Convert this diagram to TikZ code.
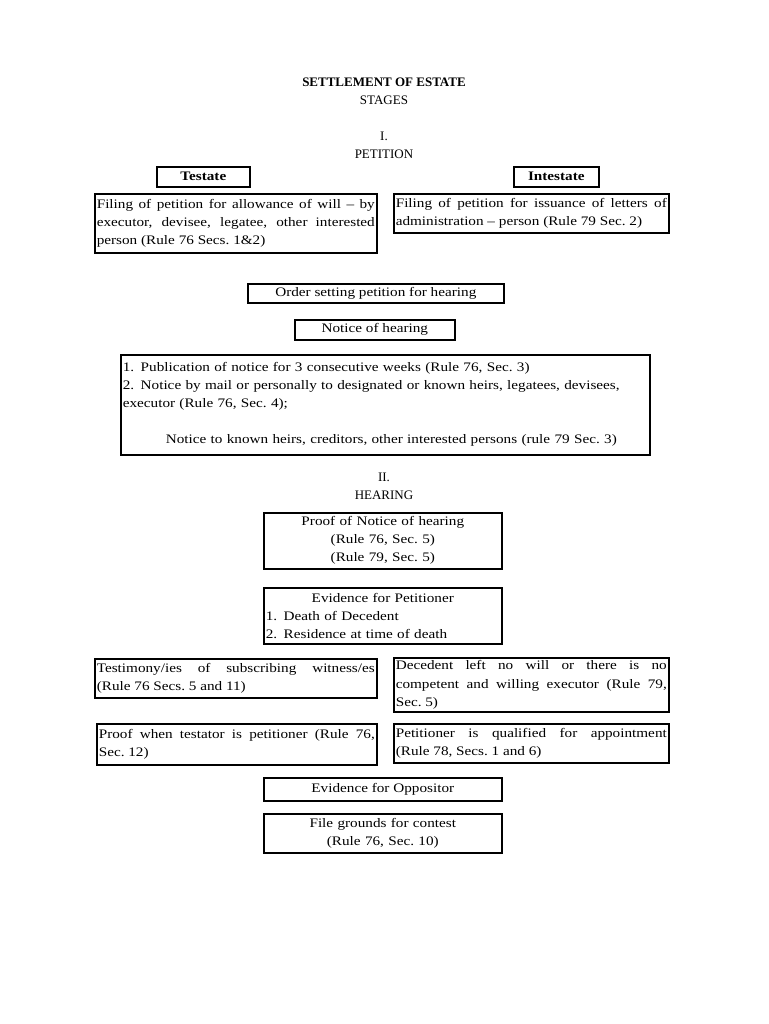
\documentclass[tikz,border=0pt]{standalone}
\usepackage{fontspec}
\setmainfont{Liberation Serif}
\newfontfamily\bodyfont[FakeStretch=1.17,Ligatures=TeX]{Liberation Serif}
\begin{document}
\begin{tikzpicture}[x=1pt,y=-1pt,
  every node/.style={font=\bodyfont\fontsize{13}{18}\selectfont},
  box/.style={draw, line width=1.6pt, anchor=north west, inner xsep=2pt, inner ysep=1pt},
  head/.style={inner sep=0pt, font=\rmfamily\fontsize{13}{18}\selectfont},
  boldbox/.style={box, font=\bodyfont\bfseries\fontsize{13}{18}\selectfont},
  para/.style={box, align=justify, execute at begin node={\hyphenpenalty=10000\exhyphenpenalty=10000}}]
\useasboundingbox (0,0) rectangle (768,1024);
\fill[white] (0,0) rectangle (768,1024);
% headings
\node[head, font=\rmfamily\bfseries\fontsize{13}{18}\selectfont] (title) at (384,82) {SETTLEMENT OF ESTATE};
\node[head] (stages) at (384,100) {STAGES};
\node[head] (one) at (384,136) {I.};
\node[head] (petition) at (384,154) {PETITION};
\node[head] (two) at (384,477) {II.};
\node[head] (hearing) at (384,495) {HEARING};
% petition stage
\node[boldbox, minimum width=93, minimum height=20] (testate) at (156,166) {Testate};
\node[boldbox, minimum width=85, minimum height=20] (intestate) at (513,166) {Intestate};
\node[para, minimum width=282, minimum height=59, text width=278] (filetest) at (94,193)
  {Filing of petition for allowance of will \textendash{} by\linebreak executor, devisee, legatee, other interested\linebreak person (Rule 76 Secs.~1\&2)};
\node[para, minimum width=275, minimum height=39, text width=271] (fileintest) at (393,193)
  {Filing of petition for issuance of letters of\linebreak administration \textendash{} person (Rule 79 Sec.~2)};
\node[box, minimum width=256, minimum height=19] (order) at (247,283) {Order setting petition for hearing};
\node[box, minimum width=160, minimum height=20] (notice) at (294,319) {Notice of hearing};
\node[box, minimum width=529, minimum height=100, text width=525, align=left] (publ) at (120,354)
  {1. Publication of notice for 3 consecutive weeks (Rule 76, Sec.~3)\\
   2. Notice by mail or personally to designated or known heirs, legatees, devisees,\\
   executor (Rule 76, Sec.~4);\\[18pt]
   \hspace*{43pt}Notice to known heirs, creditors, other interested persons (rule 79 Sec.~3)};
% hearing stage
\node[box, minimum width=238, minimum height=56, text width=234, align=center] (proof) at (263,512)
  {Proof of Notice of hearing\\(Rule 76, Sec.~5)\\(Rule 79, Sec.~5)};
\node[box, minimum width=238, minimum height=56, text width=234, align=left] (evpet) at (263,587)
  {\makebox[234pt][c]{Evidence for Petitioner}\\1. Death of Decedent\\2. Residence at time of death};
\node[para, minimum width=282, minimum height=39, text width=278] (testim) at (94,658)
  {Testimony/ies of subscribing witness/es\linebreak (Rule 76 Secs.~5 and 11)};
\node[para, minimum width=275, minimum height=54, text width=271] (decedent) at (393,657)
  {Decedent left no will or there is no\linebreak competent and willing executor (Rule 79,\linebreak Sec.~5)};
\node[para, minimum width=280, minimum height=41, text width=276] (testator) at (96,723)
  {Proof when testator is petitioner (Rule 76,\linebreak Sec.~12)};
\node[para, minimum width=275, minimum height=39, text width=271] (qualified) at (393,723)
  {Petitioner is qualified for appointment\linebreak (Rule 78, Secs.~1 and 6)};
\node[box, minimum width=238, minimum height=23] (evopp) at (263,777) {Evidence for Oppositor};
\node[box, minimum width=238, minimum height=39, text width=234, align=center] (grounds) at (263,813)
  {File grounds for contest\\(Rule 76, Sec.~10)};
\end{tikzpicture}
\end{document}
